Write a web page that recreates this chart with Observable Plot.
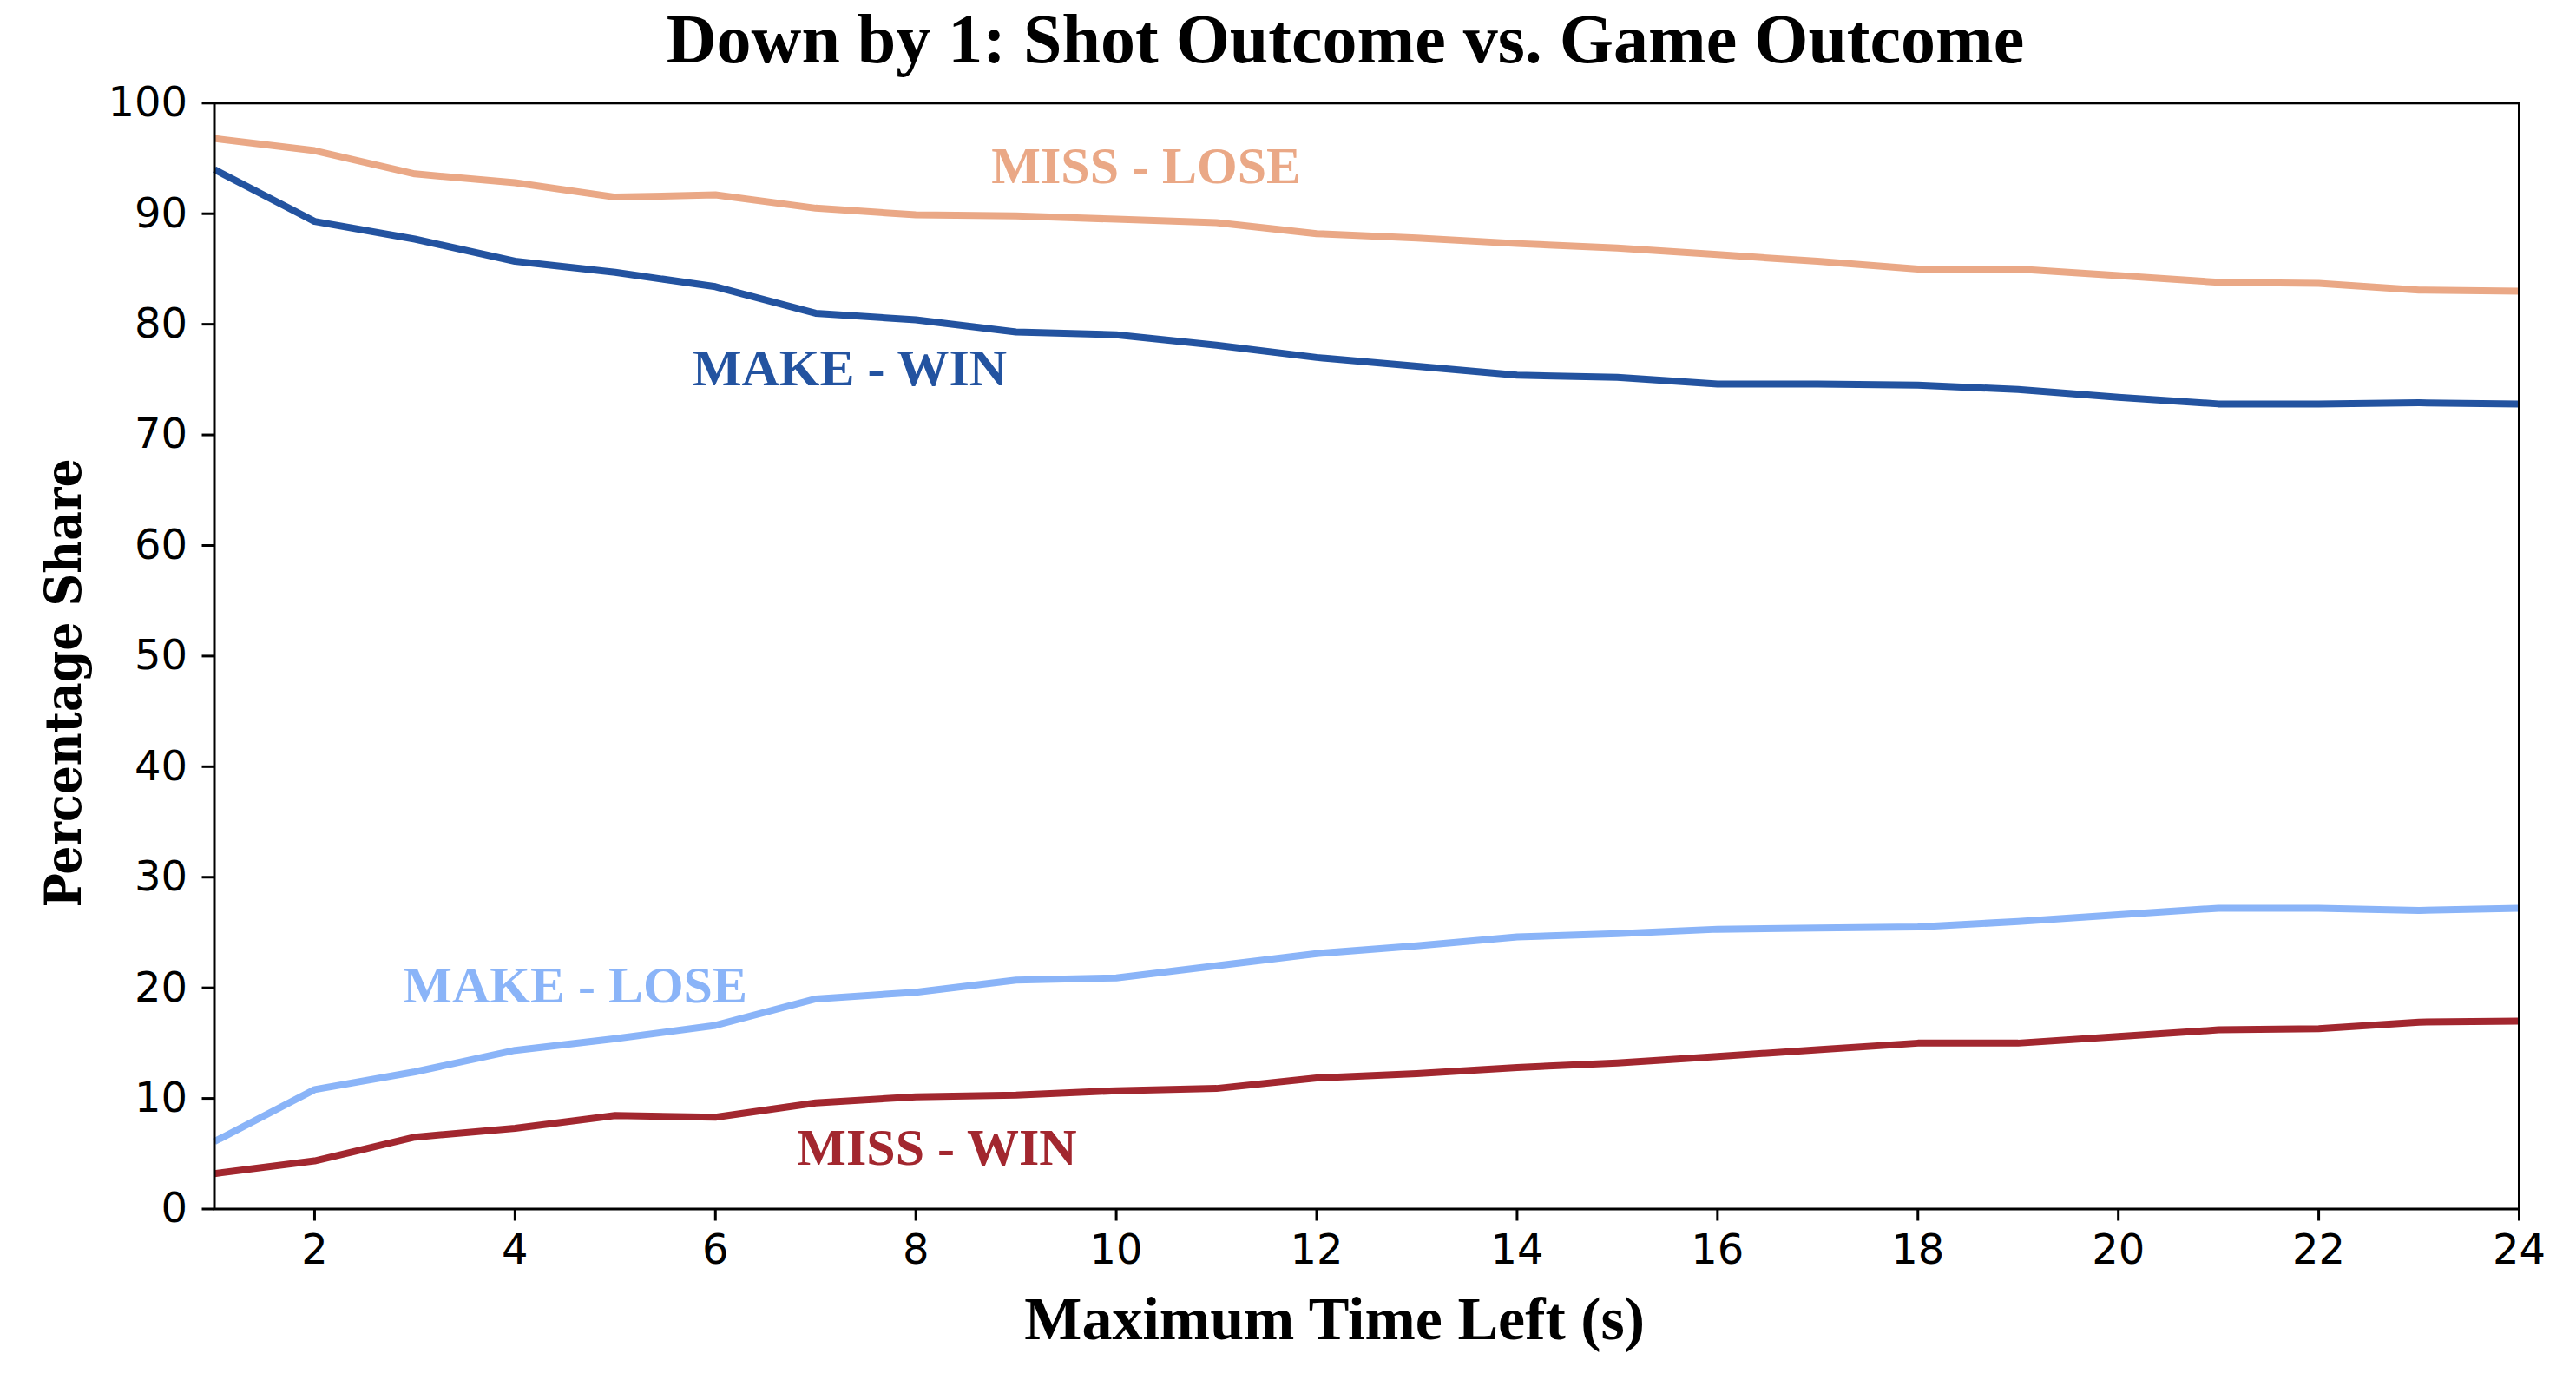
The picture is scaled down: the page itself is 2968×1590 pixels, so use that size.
<!DOCTYPE html>
<html>
<head>
<meta charset="utf-8">
<script src="https://cdn.jsdelivr.net/npm/d3@7"></script>
<script src="https://cdn.jsdelivr.net/npm/@observablehq/plot@0.6"></script>
<style>
  html, body { margin: 0; padding: 0; background: #fff; }
  #title {
    width: 2968px; height: 90px; line-height: 90px; box-sizing: border-box;
    padding-left: 132px; text-align: center; white-space: nowrap;
    font-family: "Liberation Serif", "Times New Roman", serif; font-weight: bold;
    font-size: 80px; color: #000;
  }
</style>
</head>
<body>
<div id="title">Down by 1: Shot Outcome vs. Game Outcome</div>
<div id="chart"></div>
<script>
// ---- data ----
const timeLeft = [1,2,3,4,5,6,7,8,9,10,11,12,13,14,15,16,17,18,19,20,21,22,23,24];
const makeWin  = [94.0,89.3,87.7,85.7,84.7,83.4,81.0,80.4,79.3,79.05,78.1,77.0,76.2,75.4,75.2,74.6,74.6,74.5,74.1,73.4,72.8,72.8,72.9,72.8];
const makeLose = [6.1,10.8,12.4,14.35,15.4,16.6,19.0,19.6,20.7,20.9,22.0,23.1,23.8,24.6,24.9,25.3,25.4,25.5,26.0,26.6,27.2,27.2,27.0,27.2];
const missWin  = [3.2,4.35,6.5,7.3,8.45,8.3,9.6,10.15,10.3,10.7,10.9,11.85,12.25,12.8,13.2,13.8,14.4,15.0,15.0,15.6,16.2,16.3,16.9,17.0];
const missLose = [96.8,95.7,93.6,92.8,91.5,91.7,90.5,89.9,89.8,89.5,89.2,88.2,87.8,87.3,86.9,86.3,85.7,85.0,85.0,84.4,83.8,83.7,83.1,83.0];

const seriesNames = ["MAKE - WIN", "MAKE - LOSE", "MISS - WIN", "MISS - LOSE"];
const seriesValues = [makeWin, makeLose, missWin, missLose];
const seriesColors = ["#2353a0", "#8ab4f8", "#a2272f", "#eaa886"];

const xTicks = [2,4,6,8,10,12,14,16,18,20,22,24];
const yTicks = [0,10,20,30,40,50,60,70,80,90,100];

// inline label anchor points (data coordinates)
const labelX = [7.34, 4.60, 8.21, 10.30];
const labelY = [75.98, 20.2, 5.48, 94.25];

// ---- build ----
const rows = seriesNames.flatMap((name, i) =>
  timeLeft.map((t, j) => ({series: name, t, v: seriesValues[i][j]})));
const labels = seriesNames.map((name, i) => ({name, x: labelX[i], y: labelY[i], color: seriesColors[i]}));

const lineMarks = seriesNames.map((name, i) =>
  Plot.line(rows.filter(r => r.series === name), {
    x: "t", y: "v", stroke: seriesColors[i], strokeWidth: 8,
    strokeLinejoin: "round", strokeLinecap: "butt"
  }));

const chart = Plot.plot({
  width: 2968,
  height: 1500,
  marginLeft: 246.5,
  marginRight: 66,
  marginTop: 28.3,
  marginBottom: 197.5,
  style: {background: "#fff", color: "#000", fontFamily: "DejaVu Sans", fontSize: "48px", overflow: "visible"},
  x: {domain: [1, 24]},
  y: {domain: [0, 100]},
  marks: [
    ...lineMarks,
    Plot.frame({stroke: "#000", strokeWidth: 3}),
    Plot.axisX(xTicks, {tickSize: 14, tickPadding: 15, strokeWidth: 3, fontSize: 48, label: null, fill: "#000", tickFormat: d3.format("d")}),
    Plot.axisY(yTicks, {tickSize: 14, tickPadding: 17, strokeWidth: 3, fontSize: 48, label: null, fill: "#000", tickFormat: d3.format("d")}),
    Plot.text(labels, {
      x: "x", y: "y", text: "name", fill: d => d.color,
      fontFamily: "Liberation Serif", fontWeight: "bold", fontSize: 60,
      textAnchor: "middle", lineAnchor: "middle"
    }),
    Plot.text(["Maximum Time Left (s)"], {
      frameAnchor: "bottom", dx: -37, dy: 149.5, lineAnchor: "bottom", textAnchor: "middle",
      fontFamily: "Liberation Serif", fontWeight: "bold", fontSize: 70, fill: "#000"
    }),
    Plot.text(["Percentage Share"], {
      frameAnchor: "left", dx: -154, dy: 31, rotate: -90, lineAnchor: "bottom", textAnchor: "middle",
      fontFamily: "DejaVu Serif Condensed", fontWeight: "bold", fontSize: 58, fill: "#000"
    })
  ]
});
document.getElementById("chart").appendChild(chart);
</script>
</body>
</html>
